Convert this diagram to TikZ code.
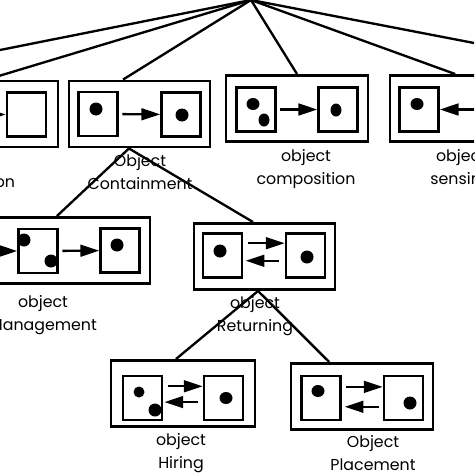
\documentclass[tikz,border=0pt]{standalone}
\usepackage{fontspec}
\setmainfont{Poppins}
\usepackage{tikz}
\usetikzlibrary{arrows.meta}

\begin{document}
\begin{tikzpicture}[x=0.03cm,y=-0.03cm,line join=miter,
                    >={Triangle[length=16pt,width=10pt]}]
  \tikzstyle{outerbox}=[rectangle,draw=black,line width=2.5pt,
                                    minimum height=1.98cm]
  \tikzstyle{cell}=[rectangle,draw=black,line width=2.2pt,
                                    minimum width=1.17cm,
                                    minimum height=1.32cm]
  \tikzstyle{link}=[line width=2pt]
  \tikzstyle{move}=[->,line width=2pt]
  \tikzstyle{caption}=[align=center,font=\fontsize{13.5}{19.6}\selectfont]
  \useasboundingbox (0,0) rectangle (474,474);
  \clip (0,0) rectangle (474,474);
  %root and free ends
  \coordinate (root) at (251,0);
  \coordinate (farL) at (0,50);
  \coordinate (farR) at (474,43);
  %outer boxes
  \node[outerbox,minimum width=4.26cm] (destr) at (-13,114) {};
  \node[outerbox,minimum width=4.23cm] (contain) at (139.5,114) {};
  \node[outerbox,minimum width=4.26cm] (compos) at (297,108.5) {};
  \node[outerbox,minimum width=4.26cm] (sens) at (461,108.5) {};
  \node[outerbox,minimum width=6.75cm] (manage) at (37.5,250.5) {};
  \node[outerbox,minimum width=4.23cm] (return) at (264.5,256.5) {};
  \node[outerbox,minimum width=4.32cm] (hire) at (183,393.5) {};
  \node[outerbox,minimum width=4.26cm] (place) at (362,396.5) {};
  %inner cells
  \node[cell] (destrL) at (-56,114.5) {};
  \node[cell] (destrR) at (26.5,114.5) {};
  \node[cell] (containL) at (98,114) {};
  \node[cell] (containR) at (181,114.5) {};
  \node[cell] (composL) at (256,109.5) {};
  \node[cell] (composR) at (338,109.5) {};
  \node[cell] (sensL) at (419,109.5) {};
  \node[cell] (sensR) at (502,109.5) {};
  \node[cell] (manageA) at (-45,251) {};
  \node[cell] (manageB) at (38,251) {};
  \node[cell] (manageC) at (120,250.5) {};
  \node[cell] (returnL) at (222.5,255.5) {};
  \node[cell] (returnR) at (305.5,255.5) {};
  \node[cell] (hireL) at (142.5,398) {};
  \node[cell] (hireR) at (223.5,398) {};
  \node[cell] (placeL) at (321,398) {};
  \node[cell] (placeR) at (403.5,398) {};
  %dots
  \fill (-58,110) ellipse (6 and 6.5);
  \fill (96,109) ellipse (6.5 and 6.5) (182,115) ellipse (6.5 and 6.5);
  \fill (253,104) ellipse (6.5 and 6) (264,120) ellipse (5.5 and 6.5)
        (336,110) ellipse (5.5 and 6.5);
  \fill (417,104) ellipse (6.5 and 6) (500,110) ellipse (6 and 6.5);
  \fill (24,240) ellipse (6.5 and 6.5) (51,261) ellipse (6.5 and 6.5)
        (117,245) ellipse (6.5 and 6.5);
  \fill (220,251) ellipse (6.5 and 6.5) (307,257) ellipse (6.5 and 6.5);
  \fill (139,392) ellipse (5.5 and 5.5) (155,410) ellipse (6.5 and 6.5)
        (226,398) ellipse (6.5 and 6);
  \fill (318,391) ellipse (6.5 and 6) (410,403) ellipse (6.5 and 6.5);
  %moves
  \draw[move,shorten <=3pt] (destrL) -- (destrR);
  \draw[move,shorten <=3pt] (containL) -- (containR);
  \draw[move,shorten <=3pt] (composL) -- (composR);
  \draw[move,shorten <=3pt] (sensR) -- (sensL);
  \draw[move,shorten <=3pt] (manageA) -- (manageB);
  \draw[move,shorten <=3pt] (manageB) -- (manageC);
  \draw[move,shorten <=4pt] ([yshift=10.5pt]returnL.east) -- ([yshift=10.5pt]returnR.west);
  \draw[move,shorten <=5pt,shorten >=2pt] ([yshift=-4.5pt]returnR.west) -- ([yshift=-4.5pt]returnL.east);
  \draw[move,shorten <=4pt] ([yshift=10pt]hireL.east) -- ([yshift=10pt]hireR.west);
  \draw[move,shorten <=4pt,shorten >=1pt] ([yshift=-3.5pt]hireR.west) -- ([yshift=-3.5pt]hireL.east);
  \draw[move,shorten <=4pt] ([yshift=9.5pt]placeL.east) -- ([yshift=9.5pt]placeR.west);
  \draw[move,shorten <=3pt,shorten >=2.5pt] ([yshift=-7.5pt]placeR.west) -- ([yshift=-7.5pt]placeL.east);
  %tree links
  \draw[link] (root) -- (farL);
  \draw[link] (root) -- (destr.north);
  \draw[link] (root) -- ([xshift=-14pt]contain.north);
  \draw[link] (root) -- (compos.north);
  \draw[link] (root) -- ([xshift=-5pt]sens.north);
  \draw[link] (root) -- (farR);
  \draw[link] ([xshift=-9pt]contain.south) -- ([xshift=16.6pt]manage.north);
  \draw[link] ([xshift=-9pt]contain.south) -- ([xshift=-9.8pt]return.north);
  \draw[link] ([xshift=-5.5pt]return.south) -- ([xshift=-6pt]hire.north);
  \draw[link] ([xshift=-5.5pt]return.south) -- ([xshift=-28pt]place.north);
  %captions
  \node[caption] (destrT) at (-30,170) {object\\destruction};
  \node[caption] (containT) at (140,172.5) {Object\\Containment};
  \node[caption] (composT) at (306,169.5) {object\\composition};
  \node[caption] (sensT) at (461,169.5) {object\\sensing};
  \node[caption] (manageT) at (43,315.5) {object\\Management};
  \node[caption] (returnT) at (255,316) {object\\Returning};
  \node[caption] (hireT) at (181,453) {object\\Hiring};
  \node[caption] (placeT) at (373,453) {Object\\Placement};
\end{tikzpicture}
\end{document}
